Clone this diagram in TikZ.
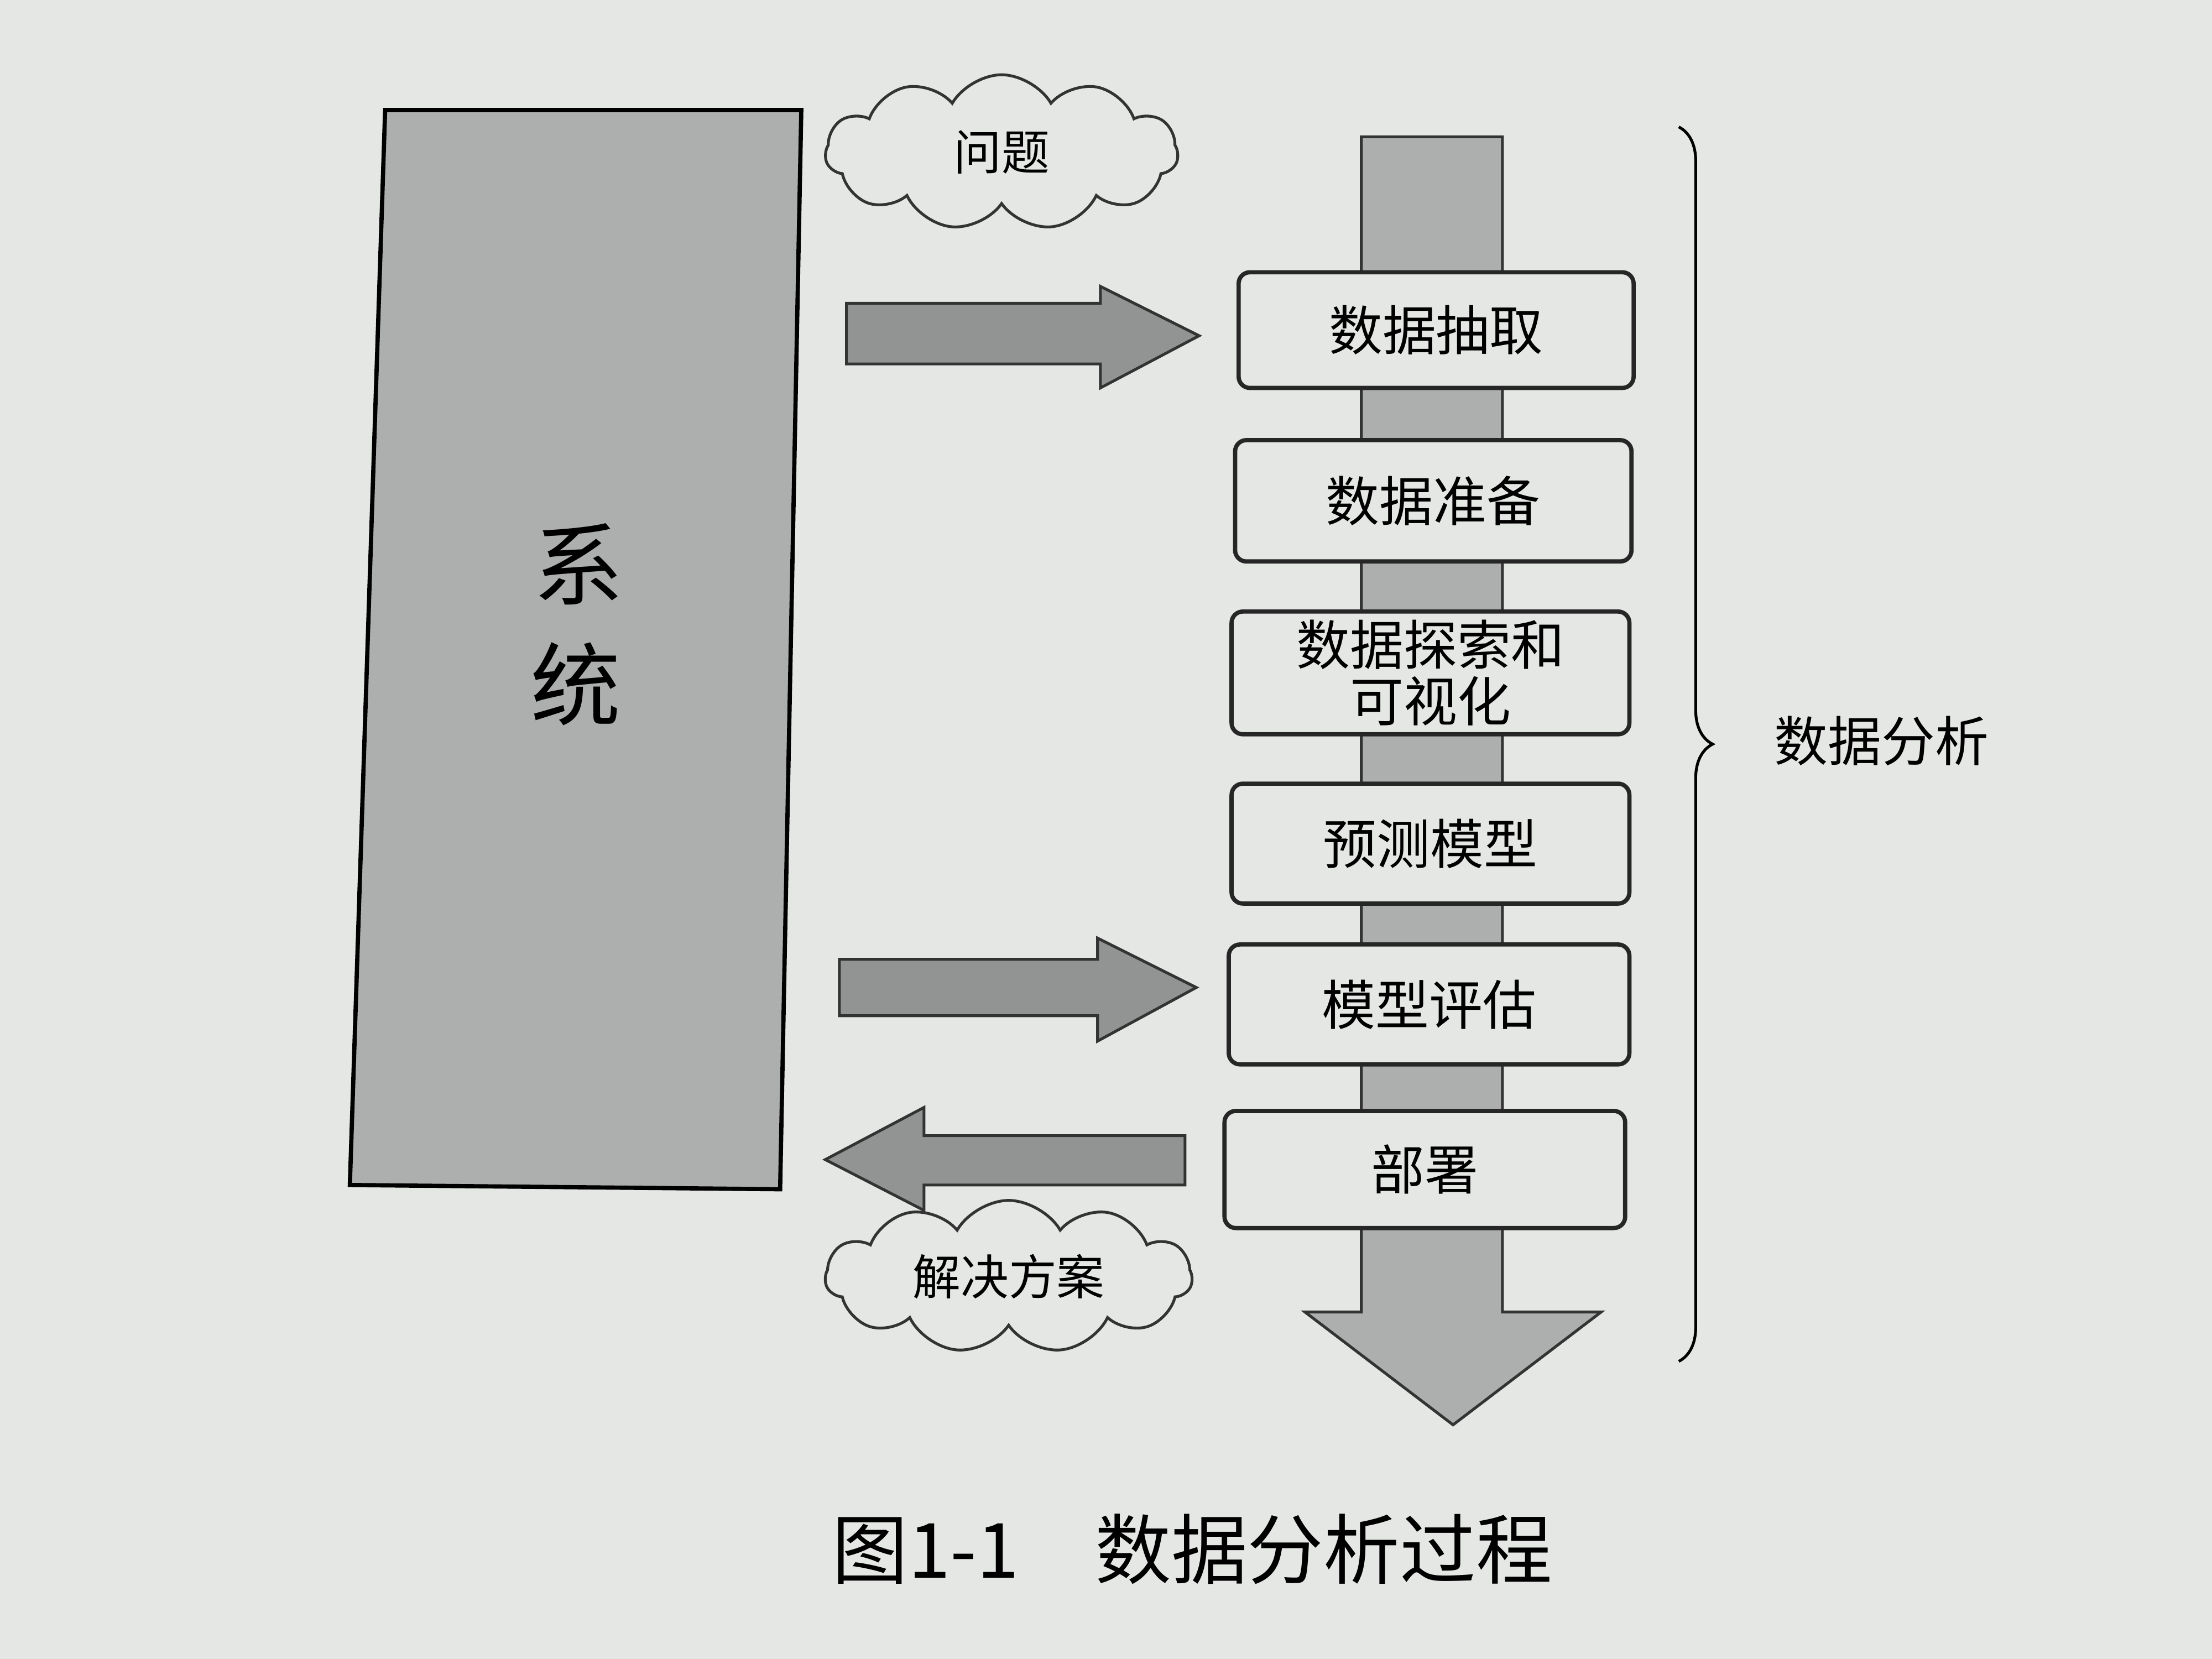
\documentclass[tikz,border=0pt]{standalone}
\usepackage{fontspec}
\setmainfont{Noto Sans CJK SC}
\usetikzlibrary{shapes.symbols,decorations.pathreplacing}
\definecolor{paper}{RGB}{228,231,228}
\definecolor{shade}{RGB}{172,175,173}
\definecolor{darkshade}{RGB}{145,148,147}
\tikzset{every picture/.style={line width=1.2pt}}
\tikzset{
  stepbox/.style={draw=black!85,line width=1.5pt,rounded corners=4pt,fill=paper,inner sep=0pt,font=\fontsize{19}{21}\selectfont,align=center},
  bigarrow/.style={draw=black!80,line width=1pt,fill=darkshade},
  cloudnode/.style={cloud,cloud puffs=11,cloud puff arc=120,aspect=2.4,draw=black!80,line width=1pt,fill=paper,inner sep=0pt}
}
\begin{document}
\begin{tikzpicture}[x=0.5pt,y=0.5pt,yscale=-1,xscale=1]
	\fill[paper] (0,0) rectangle (1568,1176);

	%Shape: system block
	\draw[line width=1.5pt,fill=shade] (273,78) -- (568,78) -- (553,843) -- (248,840) -- cycle ;
	\node (sys1) at (410,400) {\fontsize{32}{34}\selectfont 系};
	\node (sys2) at (408,485) {\fontsize{32}{34}\selectfont 统};

	%Shape: process band with arrow head
	\draw[bigarrow,fill=shade] (965,97) -- (1065,97) -- (1065,930) -- (1135,930) -- (1030,1010) -- (925,930) -- (965,930) -- cycle ;

	% Step boxes
	\node[stepbox,minimum width=140pt,minimum height=41pt] (extract) at (1018,234) {数据抽取};
	\node[stepbox,minimum width=140.5pt,minimum height=43pt] (prepare) at (1016,355) {数据准备};
	\node[stepbox,minimum width=141pt,minimum height=43.5pt] (explore) at (1014,477) {数据探索和\\[-1pt]可视化};
	\node[stepbox,minimum width=141pt,minimum height=42.5pt] (predict) at (1014,598) {预测模型};
	\node[stepbox,minimum width=142pt,minimum height=42.5pt] (evaluate) at (1013,712) {模型评估};
	\node[stepbox,minimum width=142pt,minimum height=41.5pt] (deploy) at (1010,829) {部署};

	%Shape: input arrows
	\draw[bigarrow] (600,215) -- (780,215) -- (780,203) -- (850,238) -- (780,275) -- (780,258) -- (600,258) -- cycle ;
	\draw[bigarrow] (595,680) -- (778,680) -- (778,665) -- (848,700) -- (778,738) -- (778,720) -- (595,720) -- cycle ;
	%Shape: output arrow
	\draw[bigarrow] (840,805) -- (655,805) -- (655,785) -- (585,822) -- (655,858) -- (655,840) -- (840,840) -- cycle ;

	% Clouds
	\node[cloudnode,minimum width=125pt,minimum height=55pt] (problem) at (710,108) {\fontsize{17}{19}\selectfont 问题};
	\node[cloudnode,minimum width=130pt,minimum height=50pt] (solution) at (715,905) {\fontsize{17}{19}\selectfont 解决方案};

	% Brace
	\draw[line width=1pt,decorate,decoration={brace,amplitude=12pt}] (1190,90) -- (1190,965);
	\node[anchor=west] (analysis) at (1250,525) {\fontsize{19}{21}\selectfont 数据分析};

	% Caption
	\node (caption) at (845,1098) {\fontsize{27}{29}\selectfont 图1-1\hspace{1em}数据分析过程};
\end{tikzpicture}
\end{document}
